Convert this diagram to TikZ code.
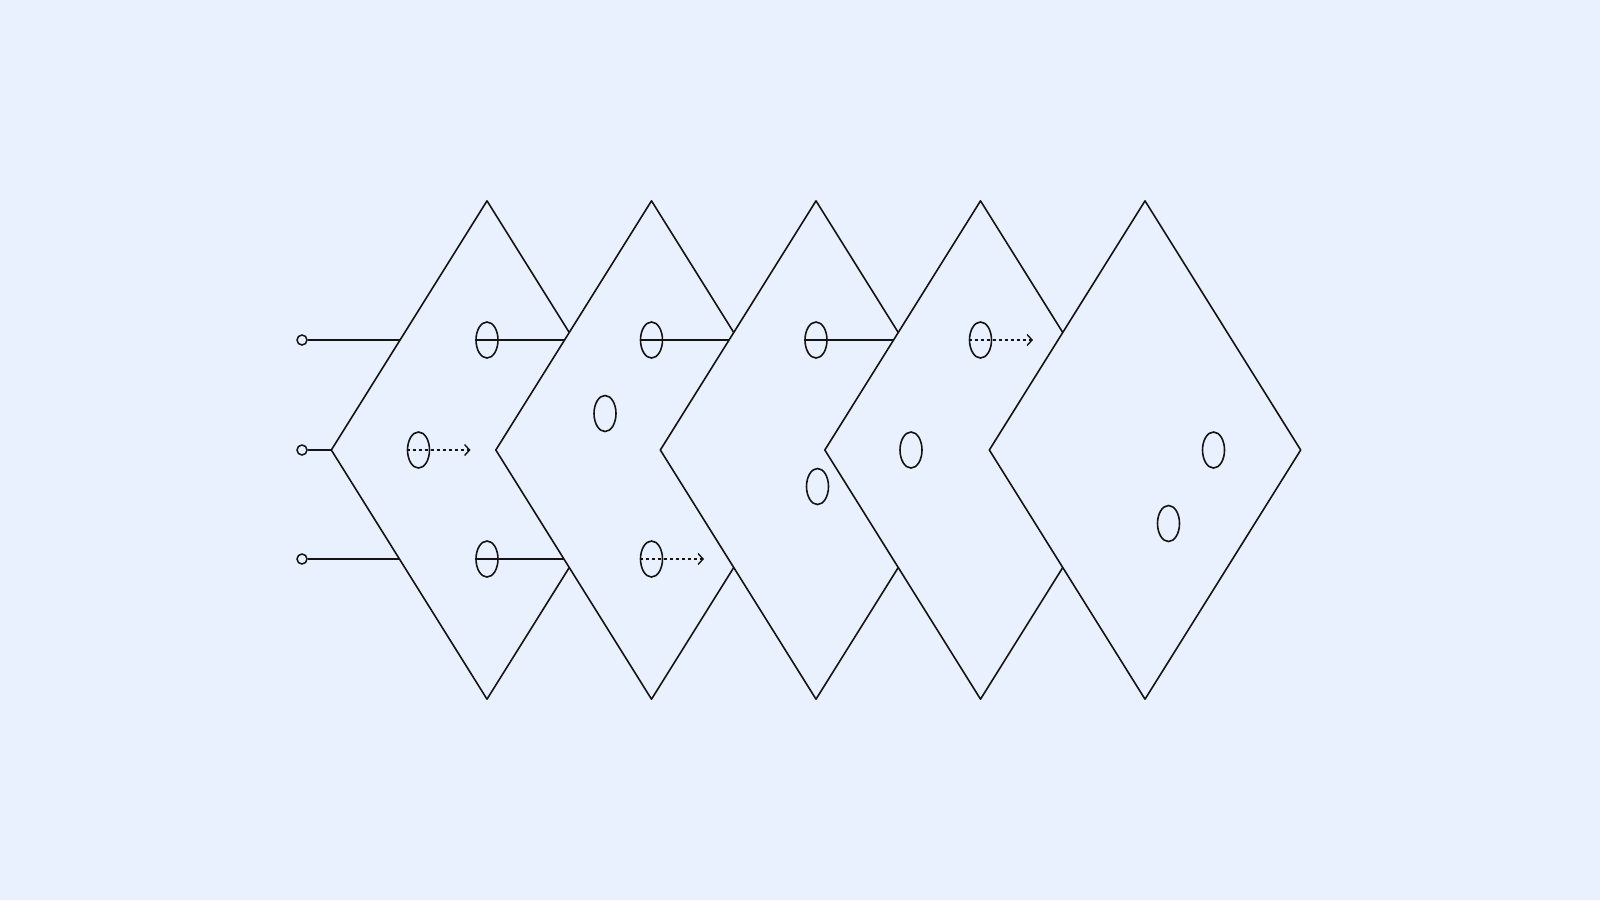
\documentclass[tikz,border=0pt]{standalone}
\usetikzlibrary{shapes.geometric,arrows.meta}
\definecolor{bg}{RGB}{234,241,254}
\definecolor{ink}{RGB}{20,20,20}
\begin{document}
\begin{tikzpicture}[x=1pt,y=-1pt,
  layer/.style={diamond,draw=ink,fill=bg,minimum width=312pt,minimum height=499pt,inner sep=0pt,line width=1.6pt,line join=round},
  hole/.style={ellipse,draw=ink,minimum width=22pt,minimum height=36pt,inner sep=0pt,line width=1.6pt},
  port/.style={circle,draw=ink,fill=bg,minimum size=10pt,inner sep=0pt,line width=1.5pt},
  wire/.style={draw=ink,line width=1.6pt},
  flow/.style={draw=ink,line width=1.4pt,dash pattern=on 3pt off 3pt,-{Straight Barb[length=5pt,width=11pt,line width=1.4pt]}}]
\fill[bg] (0,0) rectangle (1600,900);
\useasboundingbox (0,0) rectangle (1600,900);
\coordinate (c1) at (487,450);
\coordinate (c2) at (651.5,450);
\coordinate (c3) at (816,450);
\coordinate (c4) at (980.5,450);
\coordinate (c5) at (1145,450);
% inputs
\node[port] (p1) at (302,340) {};
\node[port] (p2) at (302,450) {};
\node[port] (p3) at (302,559) {};
\draw[wire] (p1) -- (p1 -| c1);
\draw[wire] (p2) -- (p2 -| c1);
\draw[wire] (p3) -- (p3 -| c1);
% layer 1
\node[layer] (d1) at (c1) {};
\node[hole] (e1a) at (487,340) {};
\node[hole] (e1b) at (418.5,450) {};
\node[hole] (e1c) at (487,559) {};
\coordinate (a1) at (470.5,450);
\draw[wire] (e1a.west) -- (e1a.west -| c2);
\draw[wire] (e1c.west) -- (e1c.west -| c2);
\draw[flow] (e1b.west) -- (a1);
% layer 2
\node[layer] (d2) at (c2) {};
\node[hole] (e2a) at (651.5,340) {};
\node[hole] (e2b) at (605,413.5) {};
\node[hole] (e2c) at (651.5,559) {};
\coordinate (a2) at (704,559);
\draw[wire] (e2a.west) -- (e2a.west -| c3);
\draw[flow] (e2c.west) -- (a2);
% layer 3
\node[layer] (d3) at (c3) {};
\node[hole] (e3a) at (816,340) {};
\node[hole] (e3b) at (817.5,486.5) {};
\draw[wire] (e3a.west) -- (e3a.west -| c4);
% layer 4
\node[layer] (d4) at (c4) {};
\node[hole] (e4a) at (980.5,340) {};
\node[hole] (e4b) at (911,450) {};
\coordinate (a4) at (1033,340);
\draw[flow] (e4a.west) -- (a4);
% layer 5
\node[layer] (d5) at (c5) {};
\node[hole] (e5a) at (1213.5,450) {};
\node[hole] (e5b) at (1168.5,523.5) {};
\end{tikzpicture}
\end{document}
